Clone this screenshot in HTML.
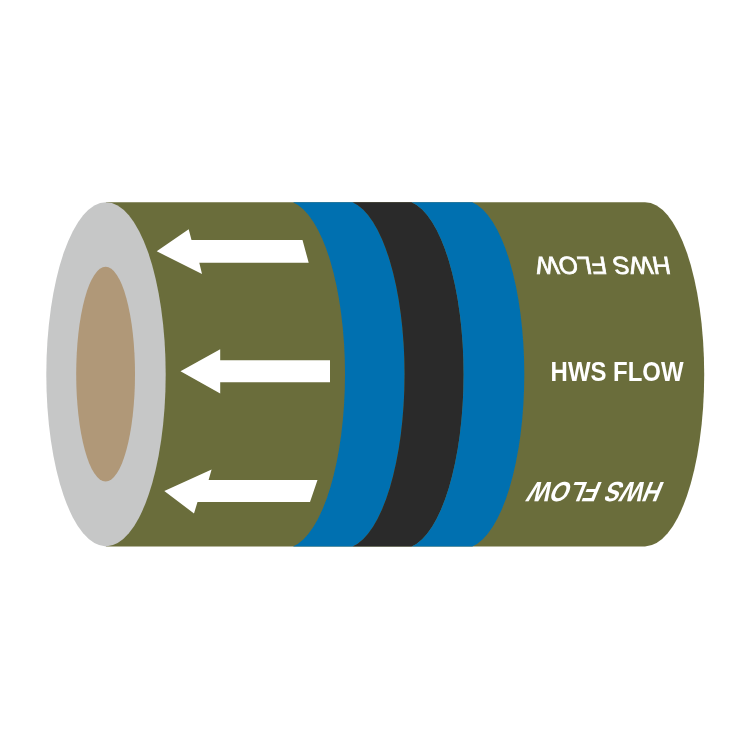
<!DOCTYPE html>
<html lang="en">
<head>
<meta charset="utf-8">
<title>HWS FLOW pipe marker tape</title>
<style>
html,body{margin:0;padding:0;background:#fff;}
body{width:750px;height:750px;overflow:hidden;}
svg{display:block;}
text{font-family:"Liberation Sans",Arial,sans-serif;fill:#fff;}
</style>
</head>
<body>
<svg width="750" height="750" viewBox="0 0 750 750">
<rect width="750" height="750" fill="#ffffff"/>
<defs><filter id="soft" filterUnits="userSpaceOnUse" x="0" y="0" width="750" height="750"><feGaussianBlur stdDeviation="0.55"/></filter></defs>
<g filter="url(#soft)">
<!-- roll body -->
<path d="M106 202.2 L645 202.2 A59.2 172.1 0 0 1 645 546.4 L106 546.4 Z" fill="#6a6d3b"/>
<!-- bands -->
<path d="M292.99 202.2 A61 174 0 0 1 292.99 546.4 L352.59 546.4 A61 174 0 0 0 352.59 202.2 Z" fill="#0070b0"/>
<path d="M352.59 202.2 A61 174 0 0 1 352.59 546.4 L411.59 546.4 A61 174 0 0 0 411.59 202.2 Z" fill="#2b2a29"/>
<path d="M411.59 202.2 A61 174 0 0 1 411.59 546.4 L472.29 546.4 A61 174 0 0 0 472.29 202.2 Z" fill="#0070b0"/>
<!-- end face -->
<ellipse cx="106" cy="374.3" rx="59.7" ry="172.1" fill="#c6c7c7"/>
<ellipse cx="105.6" cy="374.1" rx="29.4" ry="107.4" fill="#b09878"/>
<!-- arrows -->
<polygon points="156.7,251.3 188.7,229.2 191.5,239.9 302.5,239.9 308.7,262.8 199.3,262.8 202,274" fill="#fff"/>
<polygon points="180.5,371.3 220.2,349.3 220.2,360.3 330,360.3 330,382.3 220.2,382.3 220.2,393.5" fill="#fff"/>
<polygon points="164.3,491 211.6,469.5 208.6,480 317.5,480 310,502.1 197.5,502.1 194,513.5" fill="#fff"/>
<!-- labels -->
<g transform="translate(603.0 265.7) skewX(10) scale(-1 -0.88)"><text x="0" y="9.6" font-size="27.8" text-anchor="middle" textLength="134.5" lengthAdjust="spacingAndGlyphs" stroke="#fff" stroke-width="0.9">HWS FLOW</text></g>
<g transform="translate(617.1 371.6)"><text x="0" y="9.6" font-size="27.8" text-anchor="middle" textLength="133" lengthAdjust="spacingAndGlyphs" font-weight="bold">HWS FLOW</text></g>
<g transform="translate(595.3 491.6) skewX(-22.5) scale(-1 -1)"><text x="0" y="9.6" font-size="27.8" text-anchor="middle" textLength="132.5" lengthAdjust="spacingAndGlyphs" font-weight="bold">HWS FLOW</text></g>
</g>
</svg>
</body>
</html>
